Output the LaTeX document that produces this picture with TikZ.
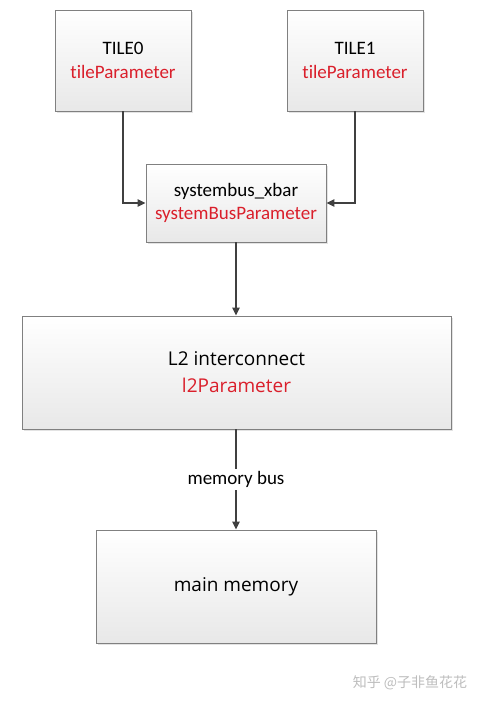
\documentclass[tikz,border=0pt]{standalone}
\usepackage{fontspec}
\setmainfont{Carlito}[Ligatures=NoCommon]
\newfontfamily\boxfont{Open Sans}
\newfontfamily\cjk{Noto Sans CJK SC}
\usepackage{xcolor}
\usetikzlibrary{arrows.meta,shadows}
\definecolor{edge}{HTML}{808080}
\definecolor{wire}{HTML}{404040}
\definecolor{param}{HTML}{DA1F2B}
\definecolor{mark}{HTML}{BDBDBD}
\tikzset{
  blk/.style={draw=edge, line width=0.9pt, top color=white, bottom color=black!9,
    align=center, inner sep=0pt, font=\fontsize{19}{23.5}\selectfont,
    drop shadow={opacity=0.22, shadow xshift=1.5pt, shadow yshift=-1.5pt}},
  bigblk/.style={blk, font=\boxfont\fontsize{19}{27}\selectfont},
  arr/.style={draw=wire, line width=1.3pt, -{Triangle[length=8pt,width=7.5pt]}},
  lab/.style={font=\fontsize{19}{23}\selectfont, fill=white, inner sep=2pt},
  wmark/.style={text=mark, font=\cjk\fontsize{14}{16}\selectfont},
}
\begin{document}
\begin{tikzpicture}[x=1pt,y=-1pt]
  \useasboundingbox (0,0) rectangle (481,705);
  \node[blk, minimum width=136pt, minimum height=101pt] (tile0) at (123,60.5)
    {TILE0\\\textcolor{param}{tileParameter}};
  \node[blk, minimum width=136pt, minimum height=101pt] (tile1) at (355,60.5)
    {TILE1\\\textcolor{param}{tileParameter}};
  \node[blk, minimum width=180pt, minimum height=78pt] (xbar) at (236,203)
    {systembus\_xbar\\\textcolor{param}{systemBusParameter}};
  \node[bigblk, minimum width=429pt, minimum height=113pt] (l2) at (236.5,372.5)
    {L2 interconnect\\\textcolor{param}{l2Parameter}};
  \node[bigblk, minimum width=280pt, minimum height=113pt] (mem) at (236,586.5)
    {main memory};
  \draw[arr] (tile0.south) |- (xbar.west);
  \draw[arr] (tile1.south) |- (xbar.east);
  \draw[arr] (xbar.south) -- (xbar.south |- l2.north);
  \draw[arr] (l2.south -| mem.north) -- node[lab] (bus) {memory bus} (mem.north);
  \node[wmark] (zhihu) at (410,683) {知乎 @子非鱼花花};
\end{tikzpicture}
\end{document}
